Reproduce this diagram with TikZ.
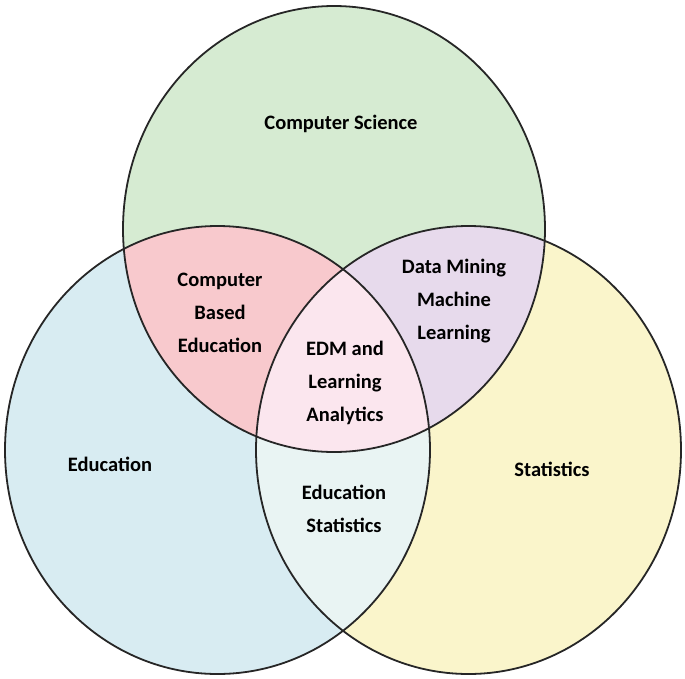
\documentclass[tikz,border=0pt]{standalone}
\usepackage{fontspec}
\setmainfont{Carlito}
\definecolor{csgreen}{HTML}{D6EBD2}
\definecolor{edublue}{HTML}{D8ECF2}
\definecolor{statyellow}{HTML}{FAF5CB}
\definecolor{csedured}{HTML}{F8C9CD}
\definecolor{csstatpurple}{HTML}{E7DAEC}
\definecolor{edustatteal}{HTML}{E9F4F3}
\definecolor{allpink}{HTML}{FBE6EE}
\begin{document}
\begin{tikzpicture}[x=1pt,y=-1pt,
  outline/.style={draw=black!85, line width=1.8pt},
  label/.style={font=\fontsize{20.5}{33}\selectfont\bfseries, align=center, text=black, inner sep=0pt}]
\useasboundingbox (0,0) rectangle (685,678);
\fill[white] (0,0) rectangle (685,678);
\def\ellCS{(334,229) ellipse [x radius=211pt, y radius=223pt]}
\def\ellEdu{(217.5,450) ellipse [x radius=212.5pt, y radius=224pt]}
\def\ellStat{(468.5,450) ellipse [x radius=212.5pt, y radius=224pt]}
% base fills
\fill[edublue] \ellEdu;
\fill[statyellow] \ellStat;
\fill[csgreen] \ellCS;
% pairwise overlaps
\begin{scope}
  \clip \ellCS;
  \fill[csedured] \ellEdu;
  \fill[csstatpurple] \ellStat;
\end{scope}
\begin{scope}
  \clip \ellEdu;
  \fill[edustatteal] \ellStat;
\end{scope}
\begin{scope}
  \clip \ellCS;
  \clip \ellEdu;
  \fill[allpink] \ellStat;
\end{scope}
% outlines
\draw[outline] \ellCS;
\draw[outline] \ellEdu;
\draw[outline] \ellStat;
% labels
\node[label] (cs) at (341,124) {Computer Science};
\node[label] (edu) at (110,464) {Education};
\node[label] (stat) at (552,469) {Statistics};
\node[label] (cbe) at (220,313) {Computer\\Based\\Education};
\node[label] (dm) at (454,301) {Data Mining\\Machine\\Learning};
\node[label] (edm) at (345,383) {EDM and\\Learning\\Analytics};
\node[label] (es) at (344,509) {Education\\Statistics};
\end{tikzpicture}
\end{document}
